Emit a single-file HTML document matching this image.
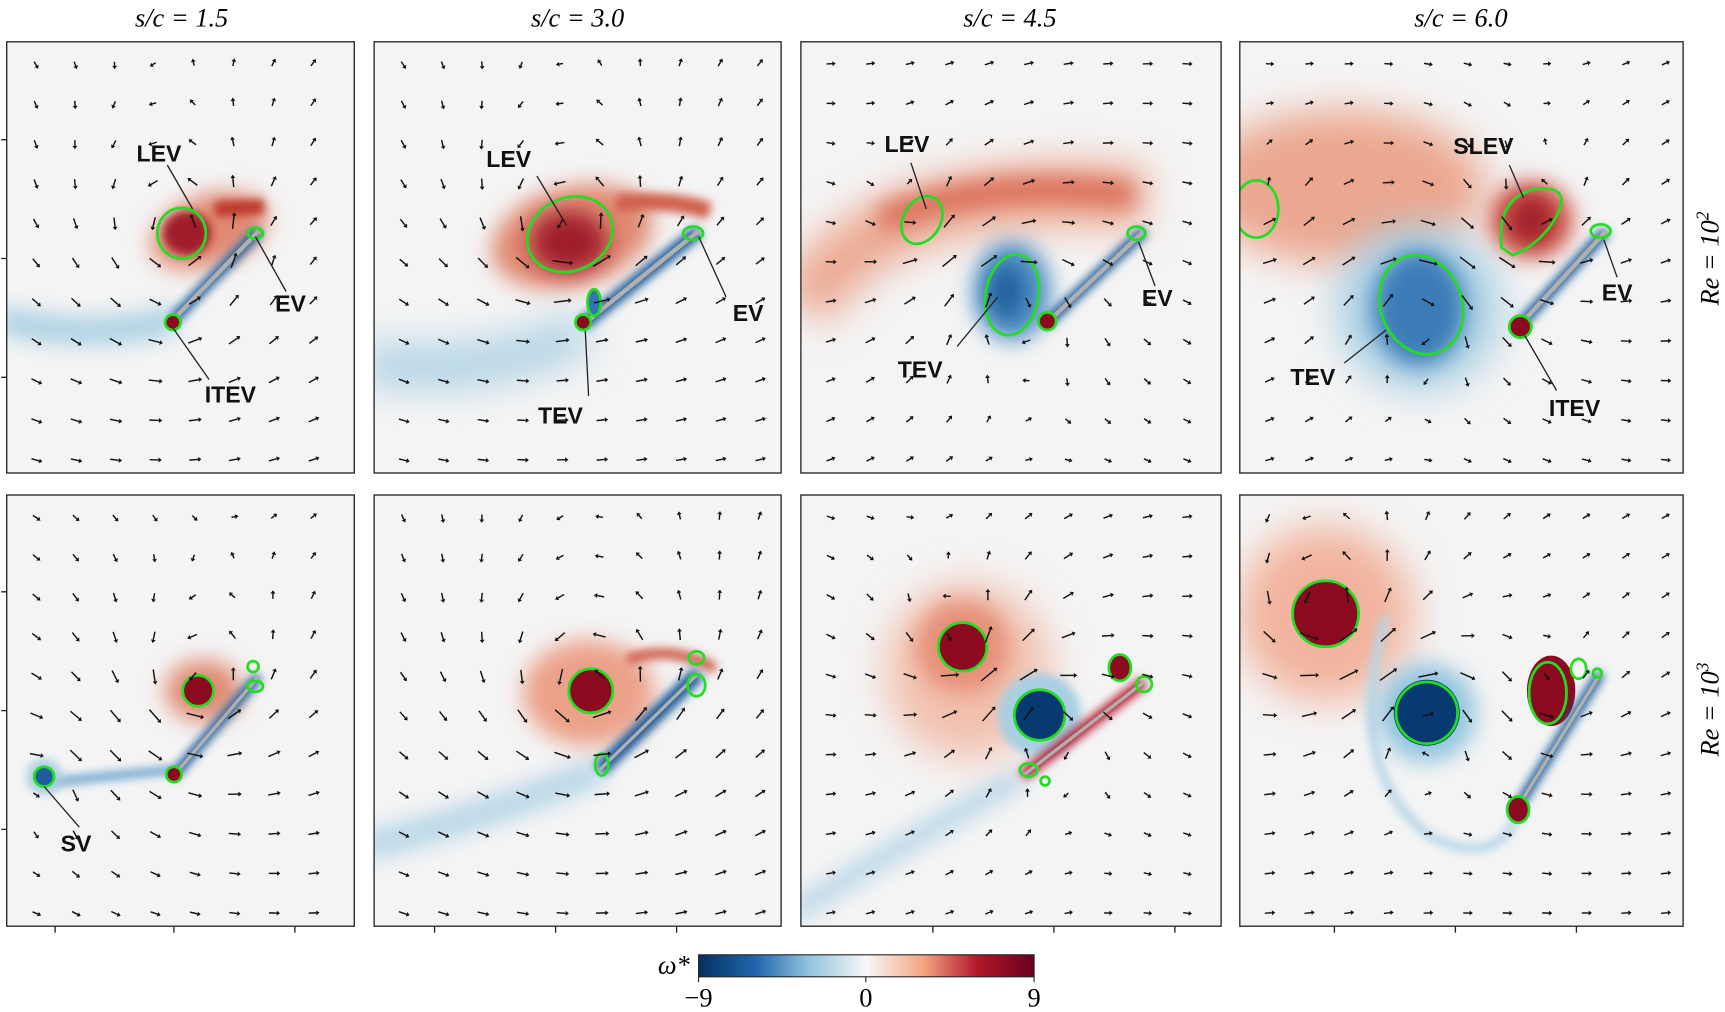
<!DOCTYPE html>
<html><head><meta charset="utf-8"><style>
html,body{margin:0;padding:0;background:#fff;}
svg{display:block;}
text{font-family:"Liberation Serif",serif;}
.lab text{font-family:"Liberation Sans",sans-serif;font-weight:bold;font-size:21px;fill:#111;}
.ttl{font-style:italic;font-size:24px;}
</style></head><body>
<svg id="s" width="1725" height="1012" viewBox="0 0 1568 920" xmlns="http://www.w3.org/2000/svg">
<defs>
<filter id="b1" filterUnits="userSpaceOnUse" x="0" y="0" width="1568" height="920"><feGaussianBlur stdDeviation="4"/></filter>
<filter id="b2" filterUnits="userSpaceOnUse" x="0" y="0" width="1568" height="920"><feGaussianBlur stdDeviation="10"/></filter>
<filter id="b3" filterUnits="userSpaceOnUse" x="0" y="0" width="1568" height="920"><feGaussianBlur stdDeviation="18"/></filter>
<linearGradient id="cb" x1="0" x2="1" y1="0" y2="0">
<stop offset="0" stop-color="#053061"/><stop offset="0.17" stop-color="#2166ac"/><stop offset="0.33" stop-color="#92c5de"/>
<stop offset="0.5" stop-color="#f7f7f7"/><stop offset="0.67" stop-color="#f4a582"/><stop offset="0.83" stop-color="#b2182b"/><stop offset="1" stop-color="#67001f"/>
</linearGradient>
<clipPath id="c1"><rect x="6" y="38" width="316" height="392"/></clipPath>
<clipPath id="c2"><rect x="340" y="38" width="370" height="392"/></clipPath>
<clipPath id="c3"><rect x="728" y="38" width="382" height="392"/></clipPath>
<clipPath id="c4"><rect x="1127" y="38" width="403" height="392"/></clipPath>
<clipPath id="c5"><rect x="6" y="450" width="316" height="392"/></clipPath>
<clipPath id="c6"><rect x="340" y="450" width="370" height="392"/></clipPath>
<clipPath id="c7"><rect x="728" y="450" width="382" height="392"/></clipPath>
<clipPath id="c8"><rect x="1127" y="450" width="403" height="392"/></clipPath>
</defs>
<g id="bg">
<rect x="6" y="38" width="316" height="392" fill="#f4f4f4"/>
<rect x="340" y="38" width="370" height="392" fill="#f4f4f4"/>
<rect x="728" y="38" width="382" height="392" fill="#f4f4f4"/>
<rect x="1127" y="38" width="403" height="392" fill="#f4f4f4"/>
<rect x="6" y="450" width="316" height="392" fill="#f4f4f4"/>
<rect x="340" y="450" width="370" height="392" fill="#f4f4f4"/>
<rect x="728" y="450" width="382" height="392" fill="#f4f4f4"/>
<rect x="1127" y="450" width="403" height="392" fill="#f4f4f4"/>
</g>
<!-- Row1 P1 -->
<g clip-path="url(#c1)">
<path d="M0 290 Q80 312 160 290" stroke="#a8cfe3" stroke-width="24" fill="none" filter="url(#b2)"/>
<ellipse cx="190" cy="210" rx="55" ry="32" transform="rotate(-20 190 210)" fill="#e08a72" filter="url(#b2)"/>
<ellipse cx="170" cy="212" rx="22" ry="20" fill="#a01c2c" filter="url(#b1)"/>
<path d="M195 190 L240 188" stroke="#c0392b" stroke-width="14" filter="url(#b1)"/>
<line x1="158" y1="290" x2="235" y2="210" stroke="#1f5c9a" stroke-width="10" filter="url(#b1)"/>
<line x1="158" y1="290" x2="235" y2="210" stroke="#b0b0b0" stroke-width="4"/>
<ellipse cx="165" cy="212" rx="22" ry="23" fill="none" stroke="#22dd22" stroke-width="2.5"/>
<circle cx="157" cy="293" r="7" fill="#8b0a1f" stroke="#22dd22" stroke-width="2.5"/>
<ellipse cx="232" cy="212" rx="7" ry="5" fill="none" stroke="#22dd22" stroke-width="2.5"/>
</g>
<!-- Row1 P2 -->
<g clip-path="url(#c2)">
<path d="M330 330 Q450 345 530 300" stroke="#a8cfe3" stroke-width="35" fill="none" filter="url(#b3)"/>
<ellipse cx="520" cy="215" rx="75" ry="45" transform="rotate(-15 520 215)" fill="#e08a72" filter="url(#b2)"/>
<path d="M560 185 Q610 180 645 192" stroke="#d0604d" stroke-width="16" fill="none" filter="url(#b1)"/>
<ellipse cx="517" cy="220" rx="35" ry="28" fill="#a01c2c" filter="url(#b2)"/>
<line x1="530" y1="295" x2="635" y2="210" stroke="#1f5c9a" stroke-width="12" filter="url(#b1)"/>
<line x1="530" y1="295" x2="635" y2="210" stroke="#b0b0b0" stroke-width="4"/>
<ellipse cx="518" cy="213" rx="40" ry="33" transform="rotate(-25 518 213)" fill="none" stroke="#22dd22" stroke-width="2.5"/>
<circle cx="530" cy="293" r="7" fill="#8b0a1f" stroke="#22dd22" stroke-width="2.5"/>
<ellipse cx="540" cy="275" rx="6" ry="12" fill="#3574b3" stroke="#22dd22" stroke-width="2.5"/>
<ellipse cx="630" cy="212" rx="9" ry="6" fill="none" stroke="#22dd22" stroke-width="2.5"/>
</g>
<!-- Row1 P3 -->
<g clip-path="url(#c3)">
<path d="M730 280 Q800 160 1040 180" stroke="#eba78f" stroke-width="55" fill="none" filter="url(#b3)"/>
<path d="M800 200 Q900 160 1030 178" stroke="#d96b56" stroke-width="22" fill="none" filter="url(#b2)"/>
<ellipse cx="920" cy="265" rx="35" ry="45" fill="#4f8fc4" filter="url(#b2)"/>
<ellipse cx="915" cy="265" rx="15" ry="25" fill="#1f5c9a" filter="url(#b2)"/>
<line x1="950" y1="295" x2="1040" y2="210" stroke="#1f5c9a" stroke-width="10" filter="url(#b1)"/>
<line x1="950" y1="295" x2="1040" y2="210" stroke="#b0b0b0" stroke-width="4"/>
<ellipse cx="838" cy="200" rx="17" ry="23" transform="rotate(30 838 200)" fill="none" stroke="#22dd22" stroke-width="2.5"/>
<ellipse cx="920" cy="268" rx="24" ry="37" transform="rotate(10 920 268)" fill="none" stroke="#22dd22" stroke-width="2.5"/>
<circle cx="952" cy="292" r="8" fill="#8b0a1f" stroke="#22dd22" stroke-width="2.5"/>
<ellipse cx="1033" cy="212" rx="8" ry="6" fill="none" stroke="#22dd22" stroke-width="2.5"/>
</g>
<!-- Row1 P4 -->
<g clip-path="url(#c4)">
<ellipse cx="1220" cy="170" rx="130" ry="70" fill="#eba78f" filter="url(#b3)"/>
<ellipse cx="1290" cy="280" rx="75" ry="75" fill="#a8cfe3" filter="url(#b3)"/>
<ellipse cx="1290" cy="280" rx="42" ry="52" fill="#3a7cb8" filter="url(#b2)"/>
<ellipse cx="1392" cy="200" rx="38" ry="35" fill="#d05a4a" filter="url(#b2)"/>
<ellipse cx="1392" cy="200" rx="20" ry="22" fill="#a01c2c" filter="url(#b2)"/>
<line x1="1382" y1="295" x2="1460" y2="210" stroke="#1f5c9a" stroke-width="10" filter="url(#b1)"/>
<line x1="1382" y1="295" x2="1460" y2="210" stroke="#b0b0b0" stroke-width="4"/>
<ellipse cx="1142" cy="190" rx="20" ry="26" fill="none" stroke="#22dd22" stroke-width="2.5"/>
<ellipse cx="1292" cy="277" rx="37" ry="46" transform="rotate(-20 1292 277)" fill="none" stroke="#22dd22" stroke-width="2.5"/>
<path d="M1365 225 Q1360 180 1395 172 Q1425 168 1418 190 Q1405 220 1375 232 Z" fill="none" stroke="#22dd22" stroke-width="2.5"/>
<circle cx="1382" cy="297" r="10" fill="#8b0a1f" stroke="#22dd22" stroke-width="2.5"/>
<ellipse cx="1455" cy="210" rx="9" ry="6" fill="none" stroke="#22dd22" stroke-width="2.5"/>
</g>
<!-- Row2 P1 -->
<g clip-path="url(#c5)">
<path d="M40 712 Q100 705 158 700" stroke="#6fa6d0" stroke-width="8" fill="none" filter="url(#b1)"/>
<circle cx="40" cy="706" r="16" fill="#a8cfe3" filter="url(#b1)"/>
<circle cx="40" cy="706" r="8" fill="#1f5c9a"/>
<ellipse cx="185" cy="628" rx="35" ry="28" fill="#e08a72" filter="url(#b2)"/>
<circle cx="180" cy="628" r="14" fill="#8b0a1f"/>
<line x1="158" y1="705" x2="235" y2="615" stroke="#1f5c9a" stroke-width="9" filter="url(#b1)"/>
<line x1="158" y1="705" x2="235" y2="615" stroke="#b0b0b0" stroke-width="3"/>
<circle cx="40" cy="706" r="9" fill="none" stroke="#22dd22" stroke-width="2.5"/>
<circle cx="180" cy="628" r="14" fill="none" stroke="#22dd22" stroke-width="2.5"/>
<circle cx="230" cy="606" r="5" fill="none" stroke="#22dd22" stroke-width="2.5"/>
<ellipse cx="232" cy="624" rx="7" ry="5" fill="none" stroke="#22dd22" stroke-width="2.5"/>
<circle cx="158" cy="704" r="7" fill="#8b0a1f" stroke="#22dd22" stroke-width="2.5"/>
</g>
<!-- Row2 P2 -->
<g clip-path="url(#c6)">
<path d="M330 770 Q450 740 545 700" stroke="#b6d6e8" stroke-width="25" fill="none" filter="url(#b2)"/>
<ellipse cx="535" cy="630" rx="60" ry="48" fill="#eca189" filter="url(#b2)"/>
<path d="M570 600 Q610 585 650 608" stroke="#d0604d" stroke-width="10" fill="none" filter="url(#b1)"/>
<circle cx="537" cy="628" r="20" fill="#8b0a1f"/>
<line x1="545" y1="700" x2="635" y2="612" stroke="#1f5c9a" stroke-width="14" filter="url(#b1)"/>
<line x1="545" y1="700" x2="635" y2="612" stroke="#b0b0b0" stroke-width="3"/>
<circle cx="537" cy="628" r="20" fill="none" stroke="#22dd22" stroke-width="2.5"/>
<ellipse cx="633" cy="598" rx="7" ry="6" fill="none" stroke="#22dd22" stroke-width="2.5"/>
<ellipse cx="633" cy="623" rx="8" ry="10" fill="none" stroke="#22dd22" stroke-width="2.5"/>
<ellipse cx="547" cy="695" rx="6" ry="10" fill="none" stroke="#22dd22" stroke-width="2.5"/>
</g>
<!-- Row2 P3 -->
<g clip-path="url(#c7)">
<path d="M720 830 Q800 780 930 705" stroke="#b6d6e8" stroke-width="18" fill="none" filter="url(#b2)"/>
<ellipse cx="880" cy="610" rx="75" ry="80" fill="#f2c0ad" filter="url(#b3)"/>
<circle cx="875" cy="588" r="42" fill="#e58f78" filter="url(#b2)"/>
<circle cx="945" cy="650" r="38" fill="#a8cfe3" filter="url(#b1)"/>
<circle cx="945" cy="650" r="24" fill="#063a70"/>
<line x1="930" y1="705" x2="1040" y2="620" stroke="#b2182b" stroke-width="10" filter="url(#b1)"/>
<line x1="930" y1="705" x2="1040" y2="620" stroke="#b0b0b0" stroke-width="3"/>
<circle cx="875" cy="588" r="22" fill="#8b0a1f"/>
<circle cx="875" cy="588" r="22" fill="none" stroke="#22dd22" stroke-width="2.5"/>
<circle cx="945" cy="650" r="23" fill="none" stroke="#22dd22" stroke-width="2.5"/>
<ellipse cx="1018" cy="607" rx="10" ry="12" fill="#8b0a1f" stroke="#22dd22" stroke-width="2.5"/>
<ellipse cx="1040" cy="622" rx="7" ry="7" fill="none" stroke="#22dd22" stroke-width="2.5"/>
<ellipse cx="935" cy="700" rx="8" ry="6" fill="none" stroke="#22dd22" stroke-width="2.5"/>
<circle cx="950" cy="710" r="4" fill="none" stroke="#22dd22" stroke-width="2.5"/>
</g>
<!-- Row2 P4 -->
<g clip-path="url(#c8)">
<circle cx="1205" cy="558" r="80" fill="#f2b49e" filter="url(#b3)"/>
<circle cx="1205" cy="558" r="30" fill="#8b0a1f"/>
<path d="M1260 560 Q1220 700 1300 760 Q1360 790 1380 740" stroke="#b6d6e8" stroke-width="8" fill="none" filter="url(#b1)"/>
<circle cx="1297" cy="648" r="45" fill="#92c5de" filter="url(#b2)"/>
<circle cx="1297" cy="648" r="30" fill="#063a70"/>
<ellipse cx="1410" cy="628" rx="22" ry="32" fill="#8b0a1f"/>
<line x1="1382" y1="730" x2="1455" y2="612" stroke="#1f5c9a" stroke-width="9" filter="url(#b1)"/>
<line x1="1382" y1="730" x2="1455" y2="612" stroke="#b0b0b0" stroke-width="3"/>
<circle cx="1205" cy="558" r="30" fill="none" stroke="#22dd22" stroke-width="2.5"/>
<circle cx="1297" cy="648" r="28" fill="none" stroke="#22dd22" stroke-width="2.5"/>
<ellipse cx="1407" cy="630" rx="17" ry="28" fill="none" stroke="#22dd22" stroke-width="2.5"/>
<ellipse cx="1435" cy="608" rx="7" ry="9" fill="none" stroke="#22dd22" stroke-width="2.5"/>
<circle cx="1452" cy="612" r="4" fill="none" stroke="#22dd22" stroke-width="2.5"/>
<ellipse cx="1380" cy="736" rx="10" ry="12" fill="#8b0a1f" stroke="#22dd22" stroke-width="2.5"/>
</g>
<g id="arrows" fill="#111" stroke="#111"></g>
<g fill="none" stroke="#222" stroke-width="1.2">
<rect x="6" y="38" width="316" height="392"/><rect x="340" y="38" width="370" height="392"/>
<rect x="728" y="38" width="382" height="392"/><rect x="1127" y="38" width="403" height="392"/>
<rect x="6" y="450" width="316" height="392"/><rect x="340" y="450" width="370" height="392"/>
<rect x="728" y="450" width="382" height="392"/><rect x="1127" y="450" width="403" height="392"/>
<path d="M6 127h-5M6 235h-5M6 343h-5M6 538h-5M6 646h-5M6 754h-5"/>
<path d="M50 842v6M158 842v6M268 842v6M395 842v6M505 842v6M615 842v6M848 842v6M958 842v6M1068 842v6M1213 842v6M1323 842v6M1433 842v6"/>
<path d="M175 190L152 150M232 215L260 265M157 298L190 345M532 301L535 360M635 215L660 270M515 205L488 160M842 190L828 148M1035 220L1050 260M907 270L870 315M1385 180L1372 150M1458 218L1470 252M1260 300L1222 330M1386 305L1415 355M40 715L72 752"/>
</g>
<g class="lab">
<text x="124" y="147">LEV</text><text x="250" y="283">EV</text><text x="186" y="366">ITEV</text>
<text x="442" y="152">LEV</text><text x="666" y="292">EV</text><text x="489" y="385">TEV</text>
<text x="804" y="138">LEV</text><text x="1038" y="278">EV</text><text x="816" y="343">TEV</text>
<text x="1321" y="140">SLEV</text><text x="1456" y="273">EV</text><text x="1173" y="350">TEV</text><text x="1408" y="378">ITEV</text>
<text x="55" y="774">SV</text>
</g>
<g class="ttl" text-anchor="middle">
<text x="165" y="24">s/c = 1.5</text><text x="525" y="24">s/c = 3.0</text>
<text x="918" y="24">s/c = 4.5</text><text x="1328" y="24">s/c = 6.0</text>
</g>
<text class="ttl" transform="translate(1562 235) rotate(-90)" text-anchor="middle">Re = 10<tspan dy="-9" font-size="16">2</tspan></text>
<text class="ttl" transform="translate(1562 645) rotate(-90)" text-anchor="middle">Re = 10<tspan dy="-9" font-size="16">3</tspan></text>
<rect x="635" y="868" width="305" height="20" fill="url(#cb)" stroke="#222" stroke-width="1"/>
<path d="M635 888v5M787 888v5M940 888v5" stroke="#222"/>
<text x="598" y="885" font-size="24" font-style="italic">ω*</text>
<g font-size="24" text-anchor="middle"><text x="635" y="915">−9</text><text x="787" y="915">0</text><text x="940" y="915">9</text></g>
</svg>
<script>
var P=[
[6,38,316,392,[[165,212,1],[232,212,-0.3],[157,293,0.3]]],
[340,38,370,392,[[518,213,1.3],[540,275,-0.3]]],
[728,38,382,392,[[838,200,0.6],[920,268,-0.9]]],
[1127,38,403,392,[[1392,200,0.8],[1292,277,-1],[1142,190,0.5]]],
[6,450,316,392,[[180,628,1],[40,706,-0.5]]],
[340,450,370,392,[[537,628,1.3]]],
[728,450,382,392,[[875,588,1],[945,650,-1]]],
[1127,450,403,392,[[1205,558,1.3],[1297,648,-1],[1410,628,0.5]]]];
var g=document.getElementById('arrows'),h='';
P.forEach(function(p){var sp=36;for(var y=p[1]+20;y<p[1]+p[3]-5;y+=sp)for(var x=p[0]+26;x<p[0]+p[2]-5;x+=sp){
var u=0.25,v=0;p[4].forEach(function(q){var dx=x-q[0],dy=y-q[1],r2=dx*dx+dy*dy+900;var k=q[2]*1800/r2;u+=k*dy/40;v+=-k*dx/40;});
var m=Math.sqrt(u*u+v*v);var L=Math.min(16,3+m*10);if(m<1e-6)continue;var ux=u/m,uy=v/m;
var x0=x-ux*L/2,y0=y-uy*L/2,x1=x+ux*L/2,y1=y+uy*L/2;
h+='<line x1="'+x0.toFixed(1)+'" y1="'+y0.toFixed(1)+'" x2="'+x1.toFixed(1)+'" y2="'+y1.toFixed(1)+'" stroke-width="1.3"/>';
var ax=x1+ux*3,ay=y1+uy*3;h+='<polygon stroke="none" points="'+ax.toFixed(1)+','+ay.toFixed(1)+' '+(x1-uy*2.2).toFixed(1)+','+(y1+ux*2.2).toFixed(1)+' '+(x1+uy*2.2).toFixed(1)+','+(y1-ux*2.2).toFixed(1)+'"/>';}});
g.innerHTML=h;
</script>
</body></html>
